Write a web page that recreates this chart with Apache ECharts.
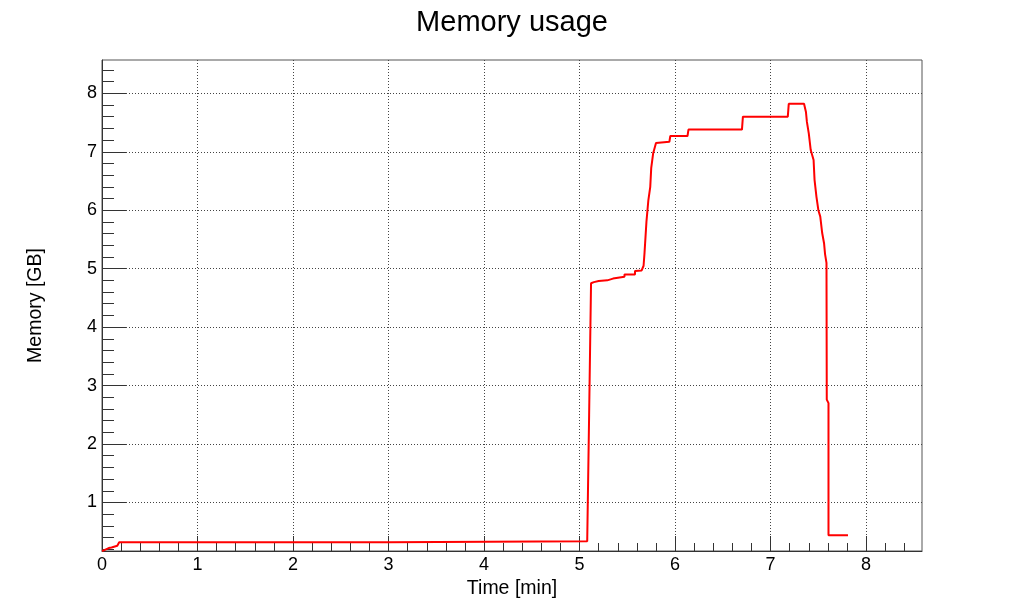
<!DOCTYPE html>
<html>
<head>
<meta charset="utf-8">
<script src="https://cdn.jsdelivr.net/npm/echarts@6/dist/echarts.min.js"></script>
<style>html,body{margin:0;padding:0;background:#fff}#c{width:1024px;height:613px}</style>
</head>
<body>
<div id="c"></div>
<script>
// Time [min]
var timeMin = [0, 0.03, 0.07, 0.10, 0.12, 0.16, 0.18, 3.00, 3.00, 5.08, 5.10, 5.12, 5.15, 5.20, 5.29, 5.29, 5.35, 5.35, 5.47, 5.47, 5.58, 5.58, 5.65, 5.67, 5.68, 5.70, 5.72, 5.74, 5.75, 5.77, 5.80, 5.82, 5.94, 5.95, 6.13, 6.14, 6.70, 6.71, 7.18, 7.19, 7.35, 7.37, 7.38, 7.40, 7.42, 7.45, 7.46, 7.48, 7.50, 7.52, 7.54, 7.56, 7.57, 7.585, 7.588, 7.606, 7.606, 7.81];
// Memory [GB]
var memoryGB = [0.17, 0.19, 0.22, 0.23, 0.25, 0.26, 0.32, 0.32, 0.335, 0.335, 2.5, 4.75, 4.77, 4.79, 4.80, 4.83, 4.83, 4.86, 4.86, 4.90, 4.90, 4.96, 4.97, 5.05, 5.27, 5.80, 6.17, 6.40, 6.72, 6.97, 7.15, 7.17, 7.17, 7.27, 7.27, 7.38, 7.38, 7.60, 7.60, 7.82, 7.82, 7.68, 7.51, 7.31, 7.03, 6.86, 6.52, 6.23, 6.00, 5.89, 5.61, 5.43, 5.25, 5.10, 2.76, 2.70, 0.44, 0.44];
var xMajorTicks = [0, 1, 2, 3, 4, 5, 6, 7, 8];
var xMinorTicks = [0.2,0.4,0.6,0.8,1.2,1.4,1.6,1.8,2.2,2.4,2.6,2.8,3.2,3.4,3.6,3.8,4.2,4.4,4.6,4.8,5.2,5.4,5.6,5.8,6.2,6.4,6.6,6.8,7.2,7.4,7.6,7.8,8.2,8.4];
var yMajorTicks = [1, 2, 3, 4, 5, 6, 7, 8];
var yMinorTicks = [0.2,0.4,0.6,0.8,1.2,1.4,1.6,1.8,2.2,2.4,2.6,2.8,3.2,3.4,3.6,3.8,4.2,4.4,4.6,4.8,5.2,5.4,5.6,5.8,6.2,6.4,6.6,6.8,7.2,7.4,7.6,7.8,8.2,8.4];
var xRange = [0, 8.585];
var yRange = [0.17, 8.57];

var font = 'Liberation Sans, Arial, Helvetica, sans-serif';
var axisColor = '#333';
var chart = echarts.init(document.getElementById('c'), null, {renderer: 'canvas'});
var pts = timeMin.map(function (t, i) { return [t, memoryGB[i]]; });
chart.setOption({
  animation: false,
  title: {
    text: 'Memory usage', left: 'center', top: 3,
    textStyle: {fontFamily: font, fontSize: 29, fontWeight: 'normal', color: '#000'}
  },
  grid: {left: 102, right: 102, top: 60, bottom: 62, show: true, borderColor: '#555', borderWidth: 1, backgroundColor: 'transparent'},
  xAxis: [{
    type: 'value', min: xRange[0], max: xRange[1], position: 'bottom',
    name: 'Time [min]', nameLocation: 'middle', nameGap: 27,
    nameTextStyle: {fontFamily: font, fontSize: 19.5, color: '#000'},
    axisLine: {onZero: false, lineStyle: {color: axisColor, width: 1}},
    axisTick: {inside: true, length: 15, customValues: xMajorTicks, lineStyle: {color: axisColor}},
    axisLabel: {customValues: xMajorTicks, margin: 5, fontFamily: font, fontSize: 18, color: '#000'},
    splitLine: {show: true, lineStyle: {color: '#444', type: [1, 2], width: 1}}
  }, {
    type: 'value', min: xRange[0], max: xRange[1], position: 'bottom', offset: 0,
    axisLine: {show: false, onZero: false},
    axisTick: {inside: true, length: 8, customValues: xMinorTicks, lineStyle: {color: axisColor}},
    axisLabel: {show: false},
    splitLine: {show: false}
  }],
  yAxis: [{
    type: 'value', min: yRange[0], max: yRange[1], position: 'left',
    name: 'Memory [GB]', nameLocation: 'middle', nameGap: 56,
    nameTextStyle: {fontFamily: font, fontSize: 19.5, color: '#000'},
    axisLine: {show: true, onZero: false, lineStyle: {color: axisColor, width: 1}},
    axisTick: {show: true, inside: true, length: 24, customValues: yMajorTicks, lineStyle: {color: axisColor}},
    axisLabel: {customValues: yMajorTicks, margin: 5, fontFamily: font, fontSize: 18, color: '#000'},
    splitLine: {show: true, lineStyle: {color: '#444', type: [1, 2], width: 1}}
  }, {
    type: 'value', min: yRange[0], max: yRange[1], position: 'left', offset: 0,
    axisLine: {show: false, onZero: false},
    axisTick: {show: true, inside: true, length: 12, customValues: yMinorTicks, lineStyle: {color: axisColor}},
    axisLabel: {show: false},
    splitLine: {show: false}
  }],
  series: [{
    type: 'line', xAxisIndex: 0, yAxisIndex: 0, data: pts,
    showSymbol: false, symbol: 'none',
    lineStyle: {color: '#ff0000', width: 2},
    z: 5
  }]
});
</script>
</body>
</html>
